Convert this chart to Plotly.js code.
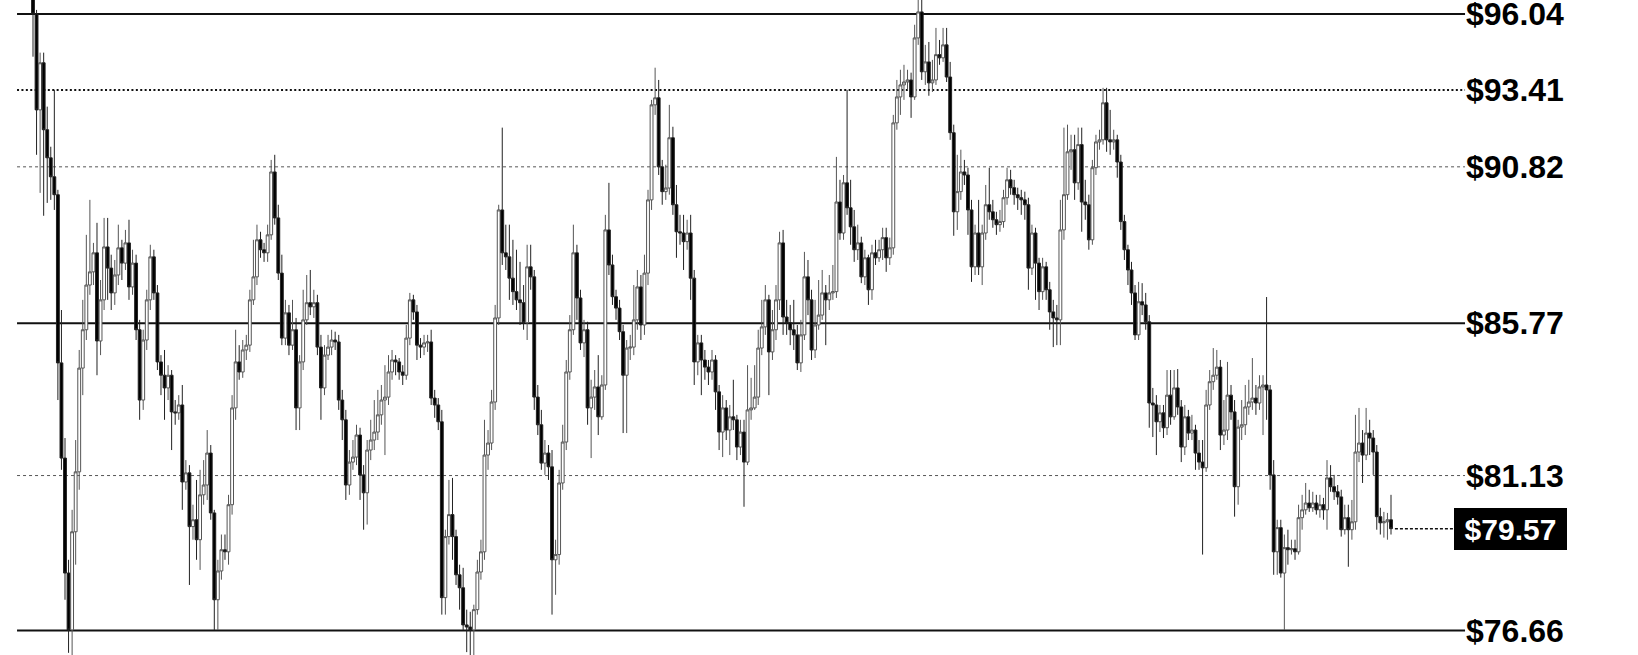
<!DOCTYPE html>
<html><head><meta charset="utf-8">
<script src="https://cdn.plot.ly/plotly-3.0.1.min.js"></script>
<style>html,body{margin:0;padding:0;background:#fff;overflow:hidden}</style>
</head><body><div id="chart" style="width:1638px;height:655px"></div>
<script>
const open = [
96.71,96.04,92.73,94.34,92.06,91.12,90.49,89.90,84.54,81.65,
78.29,76.68,79.48,81.24,84.38,85.57,86.98,87.40,88.01,85.22,
86.51,88.20,87.52,86.73,87.30,88.17,87.68,88.33,86.92,87.68,
85.57,83.40,85.25,86.51,87.88,86.73,84.57,84.16,83.77,84.16,
83.04,83.01,83.25,80.94,81.21,79.63,79.83,79.25,80.56,80.85,
81.80,80.03,77.53,78.35,78.96,78.90,80.27,83.16,84.57,84.26,
84.94,85.09,86.51,87.24,88.43,88.11,88.01,88.59,90.65,89.14,
87.36,85.31,86.10,85.09,85.57,83.16,84.57,85.88,86.42,86.29,
86.42,85.03,83.77,84.78,85.03,85.25,85.19,83.40,82.80,80.85,
81.53,81.68,82.34,81.15,80.62,81.89,82.19,82.43,82.95,83.40,
83.49,84.26,84.63,84.57,84.26,84.16,85.31,86.51,86.13,85.09,
85.03,85.16,85.19,83.46,83.25,82.74,77.59,79.34,79.98,79.34,
78.24,77.87,76.82,76.76,76.68,77.25,78.32,78.90,81.74,82.10,
83.34,85.94,89.40,88.01,87.88,87.20,86.77,86.51,86.42,85.79,
87.56,87.24,83.49,82.65,81.50,81.80,81.39,78.67,78.82,80.91,
82.13,84.26,85.57,88.01,86.57,85.16,85.57,83.16,83.49,83.80,
82.89,83.86,88.75,87.62,86.61,86.25,85.51,84.16,85.00,85.03,
85.88,86.92,85.72,87.36,89.73,92.90,93.14,90.82,90.00,90.12,
91.79,89.57,88.69,88.65,88.37,88.65,87.20,84.57,85.16,84.63,
84.41,84.26,84.63,83.65,82.43,83.16,82.49,82.89,82.80,81.98,
82.43,81.53,83.10,83.16,83.49,85.00,85.66,86.51,84.88,85.57,
86.51,88.33,85.97,85.79,85.57,85.41,84.54,85.41,87.24,86.51,
84.94,85.72,86.03,86.73,86.51,86.73,86.77,89.66,88.65,90.29,
89.47,88.85,88.11,88.33,87.24,87.85,86.83,88.01,87.85,88.11,
88.50,87.85,88.17,92.29,93.17,93.58,93.68,93.75,93.17,95.20,
96.11,94.03,94.37,93.65,93.75,94.62,94.51,94.96,93.85,91.96,
89.34,90.00,90.65,90.55,89.40,87.56,88.65,87.56,88.65,89.57,
89.34,89.08,88.92,89.02,89.80,90.39,90.13,89.90,89.80,89.73,
89.57,87.52,88.65,87.68,86.77,87.56,86.83,86.13,85.94,85.88,
88.75,89.90,91.32,91.39,90.29,91.56,89.66,89.57,88.43,90.79,
91.65,91.72,92.97,91.72,91.65,91.72,90.98,89.02,88.11,87.46,
86.73,85.41,86.45,86.35,85.82,83.31,83.25,82.74,83.01,82.56,
83.55,82.89,83.77,83.19,81.98,82.89,82.40,82.49,81.80,81.53,
81.36,83.25,83.96,84.16,84.41,82.34,82.49,83.55,83.04,80.80,
82.58,82.65,83.19,83.34,83.46,83.31,83.80,83.86,83.71,81.15,
78.90,79.60,78.29,79.02,78.96,78.99,78.90,79.89,80.12,80.32,
80.18,80.32,80.12,80.27,80.12,81.06,80.80,80.65,80.50,79.54,
79.89,79.54,79.77,81.83,82.10,81.74,82.40,82.25,81.83,79.92,
79.74,79.77,79.83];
const high = [
97.06,96.18,94.69,94.69,92.84,91.49,93.41,90.06,86.19,82.25,
78.67,80.12,82.19,84.94,86.51,88.59,89.73,88.33,88.98,87.14,
89.14,89.14,87.95,87.78,88.92,88.43,88.75,89.08,88.11,87.95,
85.88,85.57,86.83,88.27,88.11,86.98,84.78,84.94,84.47,84.32,
83.40,83.55,83.86,81.59,81.44,80.27,81.00,81.30,81.59,82.49,
82.04,80.12,78.67,79.40,79.40,80.56,83.55,85.57,85.09,85.25,
85.41,86.83,88.43,88.92,88.69,88.33,88.92,91.05,91.22,89.57,
87.95,86.51,86.35,86.51,85.94,84.78,86.83,87.30,87.46,86.83,
86.67,85.41,85.09,85.41,85.57,85.51,85.41,83.71,83.10,81.89,
82.19,82.65,82.56,81.44,82.19,82.80,83.40,83.71,83.86,84.47,
84.78,84.94,84.78,84.69,84.47,85.72,86.73,86.67,86.35,85.31,
85.41,85.41,85.57,83.71,83.46,83.10,79.54,81.00,81.06,79.54,
78.53,78.44,77.25,77.19,77.39,78.67,79.25,82.80,82.49,83.71,
86.35,89.57,92.13,88.92,88.92,88.43,88.11,87.72,86.98,88.27,
88.27,87.46,83.86,83.10,82.19,82.04,81.89,79.25,81.30,82.65,
84.63,86.03,88.92,88.27,86.83,85.88,85.82,84.02,84.32,84.78,
84.16,89.24,90.29,87.95,86.83,86.51,85.72,85.25,85.41,86.98,
87.46,87.30,87.95,90.06,93.07,94.17,93.75,91.05,90.89,92.90,
92.16,90.22,89.24,89.24,89.08,89.24,87.46,85.41,85.41,84.94,
84.63,84.94,84.78,83.86,83.55,83.40,83.25,84.02,82.95,82.80,
82.80,84.47,84.08,84.47,85.57,86.51,86.98,86.67,86.19,86.98,
88.69,88.75,86.51,86.35,86.51,85.72,85.88,88.04,87.78,86.83,
86.51,87.14,87.46,86.98,87.30,87.62,91.15,90.39,90.55,93.41,
90.39,89.40,88.92,88.53,88.11,87.95,88.27,88.43,88.43,88.82,
88.82,88.50,92.56,93.75,94.10,94.27,94.10,94.00,95.66,96.71,
96.53,94.96,95.06,94.44,95.55,95.13,95.55,95.55,94.37,92.23,
91.22,91.39,91.05,90.79,89.73,88.92,89.73,88.92,90.22,90.79,
89.73,89.34,89.40,90.06,90.79,90.72,90.39,90.13,90.06,90.00,
89.80,88.92,88.82,87.85,87.85,87.72,87.08,86.51,86.35,89.73,
92.13,92.23,91.89,91.89,92.13,92.13,90.39,89.90,91.05,91.89,
92.06,93.48,93.48,92.73,92.06,91.89,91.22,89.24,88.27,87.72,
86.98,87.08,87.04,86.73,86.03,83.77,83.55,83.25,83.25,84.32,
84.32,84.32,84.35,83.40,83.25,83.10,82.95,82.65,82.19,82.19,
83.71,84.32,85.00,84.94,84.63,83.40,84.57,83.86,83.40,82.80,
83.40,83.86,84.02,84.69,83.86,84.16,84.16,86.60,83.86,81.59,
79.83,79.83,79.40,79.54,79.25,79.25,80.27,80.56,80.91,80.71,
80.65,80.56,80.56,80.47,81.59,81.44,81.15,80.85,80.71,80.27,
80.27,80.41,82.95,83.16,82.49,83.16,82.80,82.49,82.04,80.18,
80.06,80.03,80.56];
const low = [
94.55,91.22,89.96,89.21,89.63,89.73,89.40,83.40,81.30,77.53,
76.04,75.85,78.53,80.71,83.55,85.25,86.67,86.98,84.16,84.78,
86.19,86.51,86.19,86.35,86.98,87.14,87.46,86.51,86.67,85.25,
82.80,83.10,84.94,86.19,86.51,84.32,83.55,82.80,83.40,81.89,
82.65,82.80,80.12,80.71,77.95,79.25,78.67,78.38,80.27,80.41,
79.83,76.68,76.68,78.10,78.67,78.53,79.98,82.80,84.02,84.08,
84.63,84.88,86.35,86.98,87.85,87.72,87.72,88.43,88.92,87.14,
85.09,85.09,84.78,84.94,82.49,82.49,84.32,85.72,86.03,85.94,
84.78,82.80,83.55,84.63,84.78,84.94,83.10,82.19,80.41,80.56,
81.30,81.44,80.41,79.54,79.69,81.59,81.89,82.19,82.65,81.74,
83.25,84.02,84.16,84.02,83.86,84.02,85.09,85.88,84.63,84.69,
84.78,84.88,83.25,82.86,82.49,77.11,77.11,79.11,78.67,77.95,
77.25,76.68,76.06,75.98,75.98,77.11,78.10,78.67,81.30,81.89,
83.10,85.72,87.62,87.46,86.51,86.35,86.19,85.72,85.57,85.25,
86.83,83.10,82.34,81.30,81.15,81.00,77.11,77.67,78.53,80.71,
81.89,84.02,85.41,85.88,84.94,84.72,82.65,81.65,83.10,82.34,
82.80,83.71,87.30,86.35,85.88,85.25,82.40,82.40,84.63,84.78,
85.57,85.25,85.41,86.98,89.40,92.56,90.55,89.57,89.73,89.90,
89.24,87.85,88.27,87.46,88.11,86.51,83.86,84.16,83.55,84.02,
83.86,84.02,83.10,81.89,81.68,82.19,81.74,82.49,81.59,81.74,
80.21,81.44,82.80,83.10,83.25,84.78,85.41,83.55,84.63,85.25,
86.19,85.41,85.41,85.09,84.94,84.32,84.26,85.25,86.03,84.63,
84.69,85.57,85.88,85.09,86.19,86.51,86.57,88.43,88.43,89.24,
88.27,87.72,87.78,87.04,86.98,86.35,86.51,87.62,87.72,87.78,
87.40,87.62,87.95,92.06,92.56,93.07,93.41,92.46,93.07,94.96,
93.75,93.58,93.21,93.34,93.58,94.27,94.37,93.68,91.72,88.56,
88.75,89.73,90.22,88.59,87.08,87.30,87.30,86.98,88.43,89.08,
88.82,88.59,88.69,88.82,89.57,89.90,89.57,89.40,89.24,89.08,
86.83,87.30,86.51,86.19,86.51,86.51,85.57,85.03,85.09,85.09,
88.43,89.73,90.72,89.73,90.06,88.69,89.08,88.11,88.27,90.55,
91.39,91.56,91.32,91.22,91.39,90.46,88.75,87.78,86.98,86.35,
85.25,85.25,86.03,85.57,82.56,82.28,81.74,82.43,82.25,82.34,
82.65,82.80,82.95,81.53,81.74,82.19,82.19,81.30,81.30,78.82,
81.24,83.10,83.71,84.02,81.89,82.04,82.19,82.80,79.92,80.27,
82.19,82.34,82.95,83.10,82.95,83.10,82.34,82.80,80.71,78.24,
78.24,78.16,76.68,78.53,78.82,78.67,78.82,79.54,79.98,80.06,
80.06,79.98,79.89,79.83,79.54,80.65,80.41,80.27,79.34,79.40,
78.47,79.25,79.54,81.53,80.91,81.59,81.74,81.15,79.54,79.40,
79.31,79.25,79.40];
const close = [
96.04,92.73,94.34,92.06,91.12,90.49,89.90,84.54,81.65,78.29,
76.68,79.48,81.24,84.38,85.57,86.98,87.40,88.01,85.22,86.51,
88.20,87.52,86.73,87.30,88.17,87.68,88.33,86.92,87.68,85.57,
83.40,85.25,86.51,87.88,86.73,84.57,84.16,83.77,84.16,83.04,
83.01,83.25,80.94,81.21,79.63,79.83,79.25,80.56,80.85,81.80,
80.03,77.53,78.35,78.96,78.90,80.27,83.16,84.57,84.26,84.94,
85.09,86.51,87.24,88.43,88.11,88.01,88.59,90.65,89.14,87.36,
85.31,86.10,85.09,85.57,83.16,84.57,85.88,86.42,86.29,86.42,
85.03,83.77,84.78,85.03,85.25,85.19,83.40,82.80,80.85,81.53,
81.68,82.34,81.15,80.62,81.89,82.19,82.43,82.95,83.40,83.49,
84.26,84.63,84.57,84.26,84.16,85.31,86.51,86.13,85.09,85.03,
85.16,85.19,83.46,83.25,82.74,77.59,79.34,79.98,79.34,78.24,
77.87,76.82,76.76,76.68,77.25,78.32,78.90,81.74,82.10,83.34,
85.94,89.40,88.01,87.88,87.20,86.77,86.51,86.42,85.79,87.56,
87.24,83.49,82.65,81.50,81.80,81.39,78.67,78.82,80.91,82.13,
84.26,85.57,88.01,86.57,85.16,85.57,83.16,83.49,83.80,82.89,
83.86,88.75,87.62,86.61,86.25,85.51,84.16,85.00,85.03,85.88,
86.92,85.72,87.36,89.73,92.90,93.14,90.82,90.00,90.12,91.79,
89.57,88.69,88.65,88.37,88.65,87.20,84.57,85.16,84.63,84.41,
84.26,84.63,83.65,82.43,83.16,82.49,82.89,82.80,81.98,82.43,
81.53,83.10,83.16,83.49,85.00,85.66,86.51,84.88,85.57,86.51,
88.33,85.97,85.79,85.57,85.41,84.54,85.41,87.24,86.51,84.94,
85.72,86.03,86.73,86.51,86.73,86.77,89.66,88.65,90.29,89.47,
88.85,88.11,88.33,87.24,87.85,86.83,88.01,87.85,88.11,88.50,
87.85,88.17,92.29,93.17,93.58,93.68,93.75,93.17,95.20,96.11,
94.03,94.37,93.65,93.75,94.62,94.51,94.96,93.85,91.96,89.34,
90.00,90.65,90.55,89.40,87.56,88.65,87.56,88.65,89.57,89.34,
89.08,88.92,89.02,89.80,90.39,90.13,89.90,89.80,89.73,89.57,
87.52,88.65,87.68,86.77,87.56,86.83,86.13,85.94,85.88,88.75,
89.90,91.32,91.39,90.29,91.56,89.66,89.57,88.43,90.79,91.65,
91.72,92.97,91.72,91.65,91.72,90.98,89.02,88.11,87.46,86.73,
85.41,86.45,86.35,85.82,83.31,83.25,82.74,83.01,82.56,83.55,
82.89,83.77,83.19,81.98,82.89,82.40,82.49,81.80,81.53,81.36,
83.25,83.96,84.16,84.41,82.34,82.49,83.55,83.04,80.80,82.58,
82.65,83.19,83.34,83.46,83.31,83.80,83.86,83.71,81.15,78.90,
79.60,78.29,79.02,78.96,78.99,78.90,79.89,80.12,80.32,80.18,
80.32,80.12,80.27,80.12,81.06,80.80,80.65,80.50,79.54,79.89,
79.54,79.77,81.83,82.10,81.74,82.40,82.25,81.83,79.92,79.74,
79.77,79.83,79.57];

const levels = [96.04, 93.41, 90.82, 85.77, 81.13, 76.66];
const levelStyles = ['solid', 'dot', 'dash', 'solid', 'dash', 'solid'];
const lastPrice = 79.57;

const styleMap = {
  solid: {color: '#111', width: 2, dash: 'solid'},
  dot: {color: '#111', width: 2, dash: '2px,2.4px'},
  dash: {color: '#555', width: 1, dash: '3px,3px'}
};

const shapes = levels.map((v, i) => ({
  type: 'line', xref: 'paper', yref: 'y', x0: 0.0104, x1: 0.8944, y0: v, y1: v,
  layer: 'below', line: styleMap[levelStyles[i]]
}));
shapes.push({type: 'line', xref: 'paper', yref: 'y', x0: 0.8516, x1: 0.8871,
  y0: lastPrice, y1: lastPrice, line: {color: '#111', width: 1.5, dash: '3px,2px'}});

const labelFont = {family: '"Liberation Sans Narrow", "Liberation Sans", Arial, sans-serif',
  size: 32, color: '#000', weight: 700};
const annotations = levels.map(v => ({
  xref: 'paper', yref: 'y', x: 0.8950, y: Math.log10(v), xanchor: 'left', yanchor: 'middle',
  text: '$' + v.toFixed(2), showarrow: false, font: labelFont, borderpad: 0, borderwidth: 0
}));
annotations.push({
  xref: 'paper', yref: 'y', x: 0.92216, y: Math.log10(lastPrice), xanchor: 'center', yanchor: 'middle',
  text: '$' + lastPrice.toFixed(2), showarrow: false,
  font: Object.assign({}, labelFont, {size: 30, color: '#fff'}),
  bgcolor: '#000', width: 113, height: 42, borderpad: 0, borderwidth: 0
});

const trace = {
  type: 'candlestick', open: open, high: high, low: low, close: close,
  increasing: {line: {color: '#555', width: 1}, fillcolor: '#ffffff'},
  decreasing: {line: {color: '#222', width: 1}, fillcolor: '#000000'},
  whiskerwidth: 0, hoverinfo: 'skip', showlegend: false
};

const layout = {
  width: 1638, height: 655, margin: {l: 0, r: 0, t: 0, b: 0},
  paper_bgcolor: '#fff', plot_bgcolor: '#fff', showlegend: false,
  boxgap: 0.2, boxgroupgap: 0,
  xaxis: {range: [-9.283, 451.48], visible: false, rangeslider: {visible: false}, fixedrange: true},
  yaxis: {type: 'log', range: [1.88070, 1.98466], visible: false, fixedrange: true},
  shapes: shapes, annotations: annotations
};

Plotly.newPlot('chart', [trace], layout, {staticPlot: true, displayModeBar: false});
</script>
</body></html>
